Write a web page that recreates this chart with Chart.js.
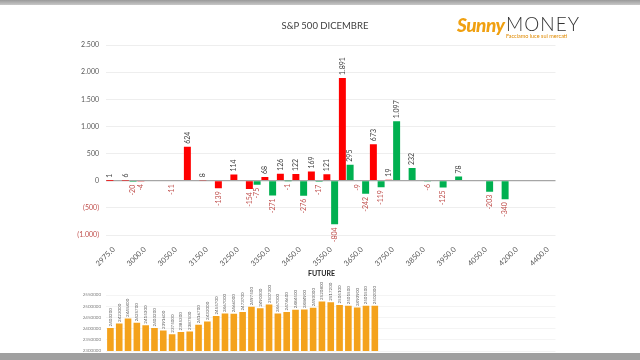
<!DOCTYPE html>
<html>
<head>
<meta charset="utf-8">
<script src="https://cdn.jsdelivr.net/npm/chart.js@4"></script>
<style>
  html, body { margin: 0; padding: 0; background: #fff; }
  #wrap { position: relative; width: 640px; height: 360px; overflow: hidden; font-family: Lato, sans-serif; }
  canvas { position: absolute; left: 0; }
  #topband { position: absolute; left: 0; top: 0; width: 640px; height: 5px; background: linear-gradient(#9a9a9a, #c8c8c8); }
  #botband { position: absolute; left: 0; top: 353px; width: 640px; height: 7px; background: #a0a0a0; }
  #title { position: absolute; left: 325px; top: 20px; transform: translateX(-50%); font-size: 9.5px; color: #404040; white-space: nowrap; }
  #future { position: absolute; left: 321.5px; top: 269px; transform: translateX(-50%); font-size: 7px; font-weight: bold; color: #262626; }
  #logo1 { position: absolute; left: 457px; top: 13px; font-size: 19px; font-style: italic; font-weight: 900; color: #f0a010; letter-spacing: -0.5px; }
  #logo2 { position: absolute; left: 506px; top: 12px; font-size: 19px; font-weight: 300; color: #333; letter-spacing: 1px; }
  #logo3 { position: absolute; left: 506px; top: 33px; font-size: 5.5px; color: #e08a00; white-space: nowrap; }
</style>
</head>
<body>
<div id="wrap">
  <div id="topband"></div>
  <canvas id="mainChart" width="640" height="270" style="top:0"></canvas>
  <canvas id="futChart" width="640" height="90" style="top:270px"></canvas>
  <div id="title">S&amp;P 500 DICEMBRE</div>
  <div id="future">FUTURE</div>
  <div id="logo1">Sunny</div>
  <div id="logo2">MONEY</div>
  <div id="logo3">Facciamo luce sui mercati</div>
  <div id="botband"></div>
</div>
<script>
// strike di dicembre
const strikes = ['2975.0', '2990.0', '3000.0', '3025.0', '3050.0', '3100.0', '3150.0', '3200.0', '3250.0', '3300.0',
  '3350.0', '3400.0', '3450.0', '3500.0', '3550.0', '3600.0', '3650.0', '3700.0', '3750.0', '3800.0',
  '3850.0', '3900.0', '3950.0', '4000.0', '4050.0', '4100.0', '4200.0', '4300.0', '4400.0'];

const redValues = [1, 6, -4, null, -11, 624, 8, -139, 114, -154,
  68, 126, 122, 169, 121, 1891, -9, 673, 19, null,
  null, null, null, null, null, null, null, null, null];

const greenValues = [null, -20, null, null, null, null, null, null, null, -75,
  -271, -1, -276, -17, -804, 295, -242, -119, 1097, 232,
  -6, -125, 78, null, -203, -340, null, null, null];

// future
const futureValues = [2403200, 2423000, 2445400, 2425700, 2415300, 2403200, 2391600, 2375000, 2385300, 2387500,
  2416700, 2432000, 2455700, 2467000, 2466000, 2473700, 2497500, 2490300, 2507300, 2467000,
  2474600, 2484500, 2484900, 2493000, 2520800, 2517200, 2505100, 2501500, 2493900, 2501500,
  2502000];
const futureSlots = 51;

Chart.defaults.font.family = 'Lato, sans-serif';

function fmtIt(v) {
  return Math.abs(v).toString().replace(/\B(?=(\d{3})+(?!\d))/g, '.');
}

function fmtLabel(v) {
  return (v < 0 ? '-' : '') + fmtIt(v);
}

// etichette verticali sopra/sotto le barre
function makeLabelPlugin(id, font, gap, posColor, negColor, plain) {
  return {
    id: id,
    afterDatasetsDraw(chart) {
      const ctx = chart.ctx;
      chart.data.datasets.forEach((ds, i) => {
        const meta = chart.getDatasetMeta(i);
        meta.data.forEach((bar, j) => {
          const v = ds.data[j];
          if (v === null || v === undefined) return;
          ctx.save();
          ctx.translate(bar.x, v >= 0 ? bar.y - gap : bar.y + gap);
          ctx.rotate(-Math.PI / 2);
          ctx.font = font;
          ctx.fillStyle = v >= 0 ? posColor : negColor;
          ctx.textAlign = v >= 0 ? 'left' : 'right';
          ctx.textBaseline = 'middle';
          ctx.fillText(plain ? String(v) : fmtLabel(v), 0, 0);
          ctx.restore();
        });
      });
    }
  };
}

new Chart(document.getElementById('mainChart').getContext('2d'), {
  type: 'bar',
  data: {
    labels: strikes,
    datasets: [
      { data: redValues, backgroundColor: '#ff0000', categoryPercentage: 1.0, barPercentage: 0.9 },
      { data: greenValues, backgroundColor: '#00b050', categoryPercentage: 1.0, barPercentage: 0.9 }
    ]
  },
  options: {
    responsive: false,
    animation: false,
    layout: { padding: { left: 60, right: 84.5, top: 45, bottom: 0 } },
    plugins: { legend: { display: false }, tooltip: { enabled: false } },
    scales: {
      x: {
        grid: { display: false },
        border: { display: false },
        afterFit: (scale) => { scale.height = 35; },
        ticks: {
          autoSkip: false,
          maxRotation: 45,
          minRotation: 45,
          padding: 2,
          color: '#595959',
          font: { size: 7.5 },
          callback: function (value, index) { return index % 2 === 0 ? this.getLabelForValue(value) : ''; }
        }
      },
      y: {
        min: -1000,
        max: 2500,
        afterFit: (scale) => { scale.width = 46; },
        border: { display: false },
        grid: {
          drawTicks: false,
          color: (c) => c.tick && c.tick.value === 0 ? '#a6a6a6' : '#eeeeee',
          lineWidth: (c) => c.tick && c.tick.value === 0 ? 1.2 : 1
        },
        ticks: {
          stepSize: 500,
          padding: 7,
          font: { size: 7 },
          color: (c) => c.tick && c.tick.value < 0 ? '#c0504d' : '#595959',
          callback: (v) => v < 0 ? '(' + fmtIt(v) + ')' : fmtIt(v)
        }
      }
    }
  },
  plugins: [makeLabelPlugin('mainLabels', '7px Lato, sans-serif', 3, '#404040', '#c0504d', false)]
});

const futLabels = [];
for (let i = 0; i < futureSlots; i++) futLabels.push(String(i + 1));

new Chart(document.getElementById('futChart').getContext('2d'), {
  type: 'bar',
  data: {
    labels: futLabels,
    datasets: [
      { data: futureValues, backgroundColor: '#f4a21c', categoryPercentage: 1.0, barPercentage: 0.75 }
    ]
  },
  options: {
    responsive: false,
    animation: false,
    layout: { padding: { left: 60, right: 84.5, top: 25, bottom: 9 } },
    plugins: { legend: { display: false }, tooltip: { enabled: false } },
    scales: {
      x: { display: false },
      y: {
        min: 2300000,
        max: 2550000,
        afterFit: (scale) => { scale.width = 46; },
        border: { display: false },
        grid: { drawTicks: false, color: '#f4f4f4' },
        ticks: {
          stepSize: 50000,
          padding: 5,
          font: { size: 4.5 },
          color: '#7f7f7f',
          callback: (v) => String(v)
        }
      }
    }
  },
  plugins: [makeLabelPlugin('futLabels', '4.5px Lato, sans-serif', 1.5, '#595959', '#595959', true)]
});
</script>
</body>
</html>
